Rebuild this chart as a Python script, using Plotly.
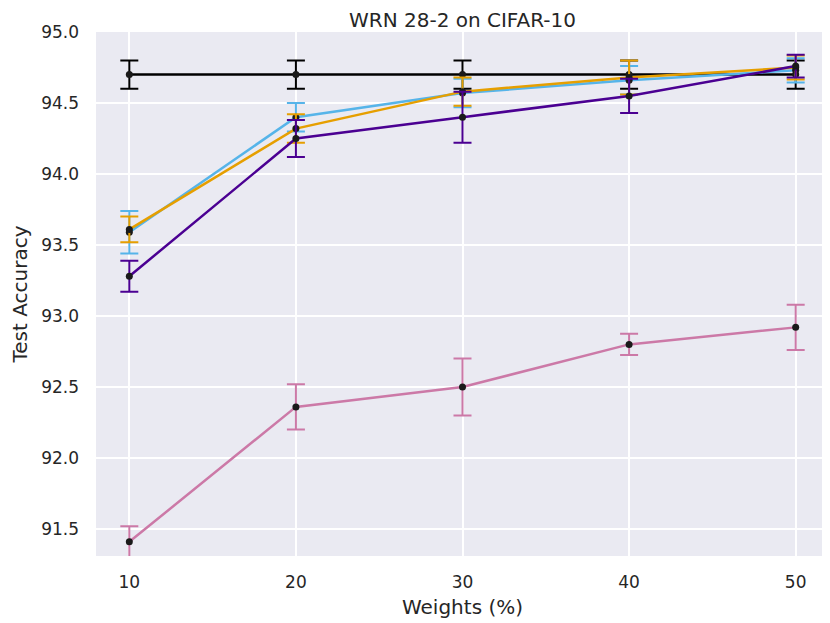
import plotly.graph_objects as go

# weights kept (%)
weights = [10, 20, 30, 40, 50]

# test accuracy per method, with std
dense_acc = [94.70, 94.70, 94.70, 94.70, 94.70]
dense_err = [0.10, 0.10, 0.10, 0.10, 0.10]

pink_acc = [91.41, 92.36, 92.50, 92.80, 92.92]
pink_err = [0.11, 0.16, 0.20, 0.075, 0.16]

blue_acc = [93.59, 94.40, 94.57, 94.66, 94.73]
blue_err = [0.15, 0.10, 0.10, 0.10, 0.085]

orange_acc = [93.61, 94.32, 94.58, 94.68, 94.75]
orange_err = [0.09, 0.10, 0.10, 0.12, 0.085]

purple_acc = [93.28, 94.25, 94.40, 94.55, 94.76]
purple_err = [0.11, 0.13, 0.18, 0.12, 0.08]

y_ticks = [91.5, 92.0, 92.5, 93.0, 93.5, 94.0, 94.5, 95.0]

series = [
    (dense_acc, dense_err, 'black'),
    (pink_acc, pink_err, '#CC79A7'),
    (blue_acc, blue_err, '#56B4E9'),
    (orange_acc, orange_err, '#E69F00'),
    (purple_acc, purple_err, '#4B0092'),
]

fig = go.Figure()
for acc, err, col in series:
    fig.add_trace(go.Scatter(
        x=weights, y=acc,
        mode='lines+markers',
        line=dict(color=col, width=2.5),
        marker=dict(color='#1a1a1a', size=7),
        error_y=dict(type='data', array=err, color=col, thickness=2, width=9),
        showlegend=False,
    ))

txt = '#262626'
tick_font = dict(family='DejaVu Sans', size=17, color=txt)
label_font = dict(family='DejaVu Sans', size=20, color=txt)

# page has an 8px body margin, so the figure is sized/offset for that
fig.update_layout(
    width=822, height=615,
    margin=dict(l=88, r=1, t=24, b=67),
    paper_bgcolor='white',
    plot_bgcolor='#EAEAF2',
    font=dict(family='DejaVu Sans', color=txt),
    title=dict(text='WRN 28-2 on CIFAR-10', x=0.5, xref='paper', xanchor='center',
               y=0.5 * (1 + (615 - 24) / 615), yref='container', yanchor='middle',
               font=dict(family='DejaVu Sans', size=20, color=txt)),
    xaxis=dict(range=[8, 52], tickvals=weights, ticktext=[str(w) for w in weights],
               showgrid=True, gridcolor='white', gridwidth=1.5, zeroline=False,
               showline=False, ticks='', tickfont=tick_font, ticklabelstandoff=14,
               automargin=False,
               title=dict(text='Weights (%)', font=label_font, standoff=8)),
    yaxis=dict(range=[91.31, 95.0], tickvals=y_ticks, ticktext=[f'{v:.1f}' for v in y_ticks],
               showgrid=True, gridcolor='white', gridwidth=1.5, zeroline=False,
               showline=False, ticks='', tickfont=tick_font, ticklabelstandoff=16,
               automargin=False,
               title=dict(text='Test Accuracy', font=label_font, standoff=12)),
)

fig.write_html("out.html")
